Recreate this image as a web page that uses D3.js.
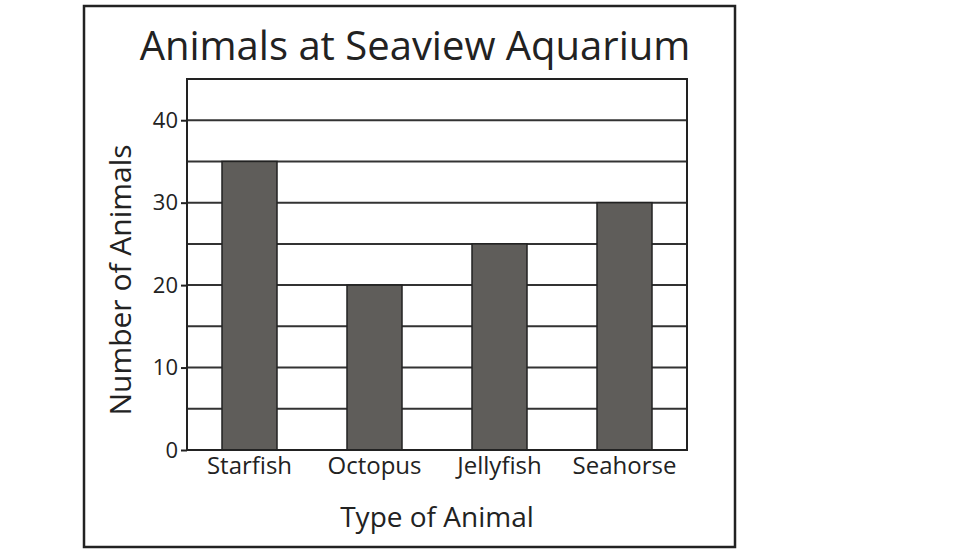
<!DOCTYPE html>
<html>
<head>
<meta charset="utf-8">
<script src="https://cdn.jsdelivr.net/npm/d3@7"></script>
<style>
  body { margin: 0; background: #fff; }
  text { font-family: "Open Sans", "DejaVu Sans", sans-serif; fill: #222; }
</style>
</head>
<body>
<svg id="chart" width="978" height="550"></svg>
<script>
let categories = ["Starfish", "Octopus", "Jellyfish", "Seahorse"];
let values = [35, 20, 25, 30];
let yTicks = [0, 10, 20, 30, 40];

let svg = d3.select("#chart");
let margin = { top: 79, left: 187, right: 291, bottom: 100 };
let width = 978 - margin.left - margin.right;
let height = 550 - margin.top - margin.bottom;

// outer frame
svg.append("rect")
    .attr("x", 84).attr("y", 6)
    .attr("width", 651).attr("height", 541)
    .attr("fill", "none").attr("stroke", "#222").attr("stroke-width", 2.5);

svg.append("text")
    .attr("x", 415).attr("y", 60)
    .attr("text-anchor", "middle")
    .style("font-size", "40px")
    .text("Animals at Seaview Aquarium");

let g = svg.append("g")
    .attr("transform", "translate(" + margin.left + "," + margin.top + ")");

let x = d3.scaleBand().domain(categories).range([0, width]).paddingInner(0.56).paddingOuter(0.28);
let y = d3.scaleLinear().domain([0, 45]).range([height, 0]);

// gridlines every 5
g.selectAll(".grid")
    .data(d3.range(5, 45, 5))
    .enter().append("line")
    .attr("x1", 0).attr("x2", width)
    .attr("y1", d => y(d)).attr("y2", d => y(d))
    .attr("stroke", "#333").attr("stroke-width", 2);

g.selectAll(".bar")
    .data(values)
    .enter().append("rect")
    .attr("x", (d, i) => x(categories[i]))
    .attr("y", d => y(d))
    .attr("width", x.bandwidth())
    .attr("height", d => height - y(d))
    .attr("fill", "#5f5d5a")
    .attr("stroke", "#222").attr("stroke-width", 1.5);

g.append("rect")
    .attr("width", width).attr("height", height)
    .attr("fill", "none").attr("stroke", "#222").attr("stroke-width", 2);

let yAxis = g.append("g")
    .call(d3.axisLeft(y).tickValues(yTicks).tickSize(6).tickSizeOuter(0).tickPadding(3));
yAxis.select(".domain").remove();
yAxis.selectAll("line").attr("stroke", "#222").attr("stroke-width", 2);
yAxis.selectAll("text").style("font-size", "22px").style("fill", "#222");

let xAxis = g.append("g")
    .attr("transform", "translate(0," + height + ")")
    .call(d3.axisBottom(x).tickSize(0).tickPadding(7));
xAxis.select(".domain").remove();
xAxis.selectAll("text").style("font-size", "24px").style("fill", "#222");

svg.append("text")
    .attr("x", 437).attr("y", 527)
    .attr("text-anchor", "middle")
    .style("font-size", "28px")
    .text("Type of Animal");

svg.append("text")
    .attr("transform", "translate(131,280) rotate(-90)")
    .attr("text-anchor", "middle")
    .style("font-size", "30px")
    .text("Number of Animals");
</script>
</body>
</html>
